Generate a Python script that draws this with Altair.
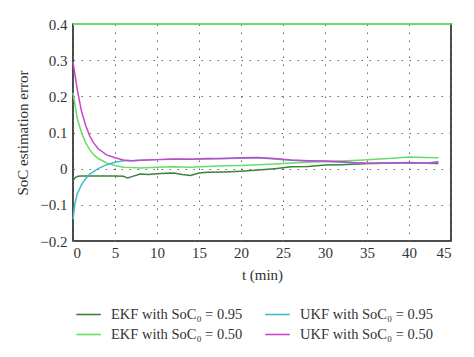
import altair as alt
import pandas as pd

# ---- data ----
t_ekf95 = [0, 0.1, 0.3, 0.6, 1, 2, 3, 4, 5, 6, 6.5, 7, 8, 9, 10, 11, 12, 13, 14, 15, 16, 18, 20,
           22, 24, 26, 28, 30, 32, 34, 36, 38, 40, 42, 43.5]
v_ekf95 = [-0.035, -0.03, -0.024, -0.021, -0.02, -0.02, -0.02, -0.02, -0.02, -0.021, -0.026, -0.022,
           -0.015, -0.016, -0.014, -0.013, -0.012, -0.016, -0.019, -0.012, -0.01, -0.009, -0.007,
           -0.004, 0.0, 0.005, 0.006, 0.01, 0.011, 0.013, 0.015, 0.016, 0.016, 0.015, 0.014]

t_ekf50 = [0, 0.5, 1, 1.5, 2, 2.5, 3, 4, 5, 6, 7, 8, 10, 12, 14, 16, 18, 20, 22, 24, 26, 28, 30,
           32, 34, 36, 38, 40, 42, 43.5]
v_ekf50 = [0.21, 0.14, 0.1, 0.072, 0.052, 0.038, 0.028, 0.016, 0.009, 0.004, 0.003, 0.002, 0.004,
           0.005, 0.004, 0.006, 0.008, 0.009, 0.011, 0.013, 0.016, 0.018, 0.02, 0.021, 0.023, 0.026,
           0.029, 0.032, 0.031, 0.03]

t_ukf95 = [0, 0.2, 0.5, 1, 1.5, 2, 3, 4, 5, 6, 7, 8, 10, 12, 14, 16, 18, 20, 22, 24, 26, 28, 30,
           32, 34, 36, 38, 40, 42, 43.5]
v_ukf95 = [-0.14, -0.1, -0.07, -0.045, -0.028, -0.015, 0.0, 0.011, 0.018, 0.022, 0.022, 0.023,
           0.025, 0.026, 0.026, 0.027, 0.028, 0.029, 0.03, 0.027, 0.023, 0.021, 0.02, 0.018, 0.016,
           0.015, 0.016, 0.016, 0.015, 0.018]

t_ukf50 = [0, 0.5, 1, 1.5, 2, 2.5, 3, 4, 5, 6, 7, 8, 10, 12, 14, 16, 18, 20, 22, 24, 26, 28, 30,
           32, 34, 36, 38, 40, 42, 43.5]
v_ukf50 = [0.295, 0.22, 0.16, 0.12, 0.09, 0.07, 0.055, 0.038, 0.03, 0.024, 0.022, 0.023, 0.025,
           0.027, 0.026, 0.028, 0.028, 0.03, 0.031, 0.028, 0.024, 0.022, 0.021, 0.019, 0.016, 0.014,
           0.016, 0.017, 0.015, 0.019]

series_names = ["EKF with SoC₀ = 0.95", "EKF with SoC₀ = 0.50",
                "UKF with SoC₀ = 0.95", "UKF with SoC₀ = 0.50"]
series_colors = ["#3f7f3f", "#66dd66", "#3fbcc8", "#cc44cc"]

top_line = [0.4]
x_ticks = [0, 5, 10, 15, 20, 25, 30, 35, 40, 45]
y_ticks = [-0.2, -0.1, 0, 0.1, 0.2, 0.3, 0.4]

frames = {
    series_names[0]: (t_ekf95, v_ekf95),
    series_names[1]: (t_ekf50, v_ekf50),
    series_names[2]: (t_ukf95, v_ukf95),
    series_names[3]: (t_ukf50, v_ukf50),
}

FONT = "Liberation Serif"

x_scale = alt.Scale(domain=[0, 45], nice=False, zero=False)
y_scale = alt.Scale(domain=[-0.2, 0.4], nice=False, zero=False)
color_scale = alt.Scale(domain=series_names, range=series_colors)

x_axis = alt.Axis(title="t (min)", values=x_ticks, labelPadding=4, titlePadding=7)
y_axis = alt.Axis(title="SoC estimation error", values=y_ticks, labelPadding=6, titlePadding=9,
                  labelExpr="datum.value == 0 ? '0' : format(datum.value, '.1f')")

legend = alt.Legend(title=None, orient="none", legendX=2, legendY=277,
                    columns=2, columnPadding=19, rowPadding=-3,
                    symbolType="stroke", symbolSize=600,
                    symbolStrokeWidth=1.6, labelOffset=9)

layers = []
for name, (ts, vs) in frames.items():
    df = pd.DataFrame({"t": ts, "v": vs, "series": name})
    layers.append(alt.Chart(df).mark_line(strokeWidth=1.5).encode(
        x=alt.X("t:Q", scale=x_scale, axis=x_axis),
        y=alt.Y("v:Q", scale=y_scale, axis=y_axis),
        color=alt.Color("series:N", scale=color_scale, sort=series_names, legend=legend),
    ))

top = alt.Chart(pd.DataFrame({"y": top_line})).mark_rule(color="#66dd66", strokeWidth=2).encode(
    y=alt.Y("y:Q", scale=y_scale, axis=y_axis))

chart = alt.layer(*layers, top).properties(
    width=378, height=217,
    autosize=alt.AutoSizeParams(type="none"),
    padding={"left": 73, "top": 24, "right": 23, "bottom": 116},
    background="white",
).configure_view(
    stroke="#111111", strokeWidth=1.5
).configure_axis(
    grid=True, gridDash=[1.5, 6.5], gridColor="#666666", gridOpacity=1,
    domain=False, ticks=False,
    labelFont=FONT, titleFont=FONT, labelFontSize=15, titleFontSize=15,
    labelFontWeight="normal", titleFontWeight="normal",
    labelColor="#333333", titleColor="#333333",
).configure_legend(
    labelFont=FONT, labelFontSize=14.5, labelColor="#333333",
)

chart.save("out.html", embed_options={"renderer": "svg", "actions": False})
